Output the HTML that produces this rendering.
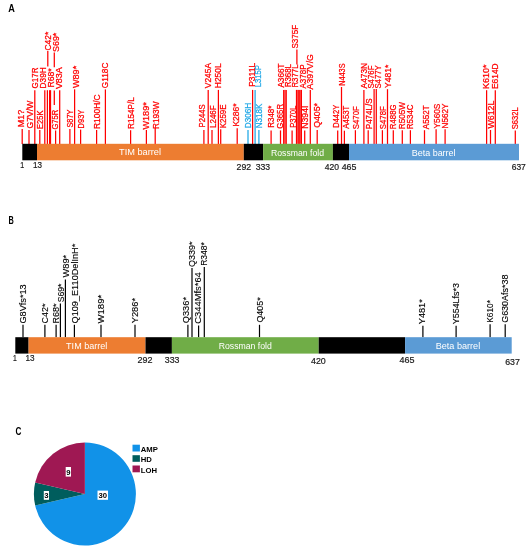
<!DOCTYPE html>
<html><head><meta charset="utf-8"><title>Figure</title>
<style>html,body{margin:0;padding:0;background:#fff}svg{display:block}text{font-family:"Liberation Sans",sans-serif}</style></head><body>
<svg width="529" height="550" viewBox="0 0 529 550">
<rect width="529" height="550" fill="#fff"/>
<text x="8.3" y="12.0" font-size="10" font-weight="bold" fill="#000" textLength="6.6" lengthAdjust="spacingAndGlyphs">A</text>
<rect x="283.7" y="89.9" width="2.5" height="54" fill="#ff6a6a"/><rect x="296.5" y="89.9" width="4.9" height="54" fill="#ff5050"/>
<line x1="22.2" y1="128.9" x2="22.2" y2="144.0" stroke="#ff0000" stroke-width="1.25"/>
<line x1="29.0" y1="130" x2="29.0" y2="144.0" stroke="#ff0000" stroke-width="1.25"/>
<line x1="34.8" y1="90.2" x2="34.8" y2="144.0" stroke="#ff0000" stroke-width="1.25"/>
<line x1="39.8" y1="130" x2="39.8" y2="144.0" stroke="#ff0000" stroke-width="1.25"/>
<line x1="44.8" y1="90.2" x2="44.8" y2="144.0" stroke="#ff0000" stroke-width="1.25"/>
<line x1="47.8" y1="51" x2="47.8" y2="66.5" stroke="#ff0000" stroke-width="1.25"/>
<line x1="47.4" y1="90.2" x2="47.4" y2="144.0" stroke="#ff0000" stroke-width="1.25"/>
<line x1="49.6" y1="90.2" x2="49.6" y2="144.0" stroke="#ff0000" stroke-width="1.25"/>
<line x1="50.5" y1="90.2" x2="50.5" y2="144.0" stroke="#ff0000" stroke-width="1.25"/>
<line x1="54.3" y1="52.5" x2="54.3" y2="67.3" stroke="#ff0000" stroke-width="1.25"/>
<line x1="54.3" y1="90.5" x2="54.3" y2="105" stroke="#ff0000" stroke-width="1.25"/>
<line x1="55.6" y1="130.5" x2="55.6" y2="144.0" stroke="#ff0000" stroke-width="1.25"/>
<line x1="59.7" y1="90.2" x2="59.7" y2="144.0" stroke="#ff0000" stroke-width="1.25"/>
<line x1="69.9" y1="128.9" x2="69.9" y2="144.0" stroke="#ff0000" stroke-width="1.25"/>
<line x1="74.6" y1="89.3" x2="74.6" y2="144.0" stroke="#ff0000" stroke-width="1.25"/>
<line x1="80.6" y1="129.6" x2="80.6" y2="144.0" stroke="#ff0000" stroke-width="1.25"/>
<line x1="96.6" y1="130" x2="96.6" y2="144.0" stroke="#ff0000" stroke-width="1.25"/>
<line x1="105.4" y1="89.4" x2="105.4" y2="144.0" stroke="#ff0000" stroke-width="1.25"/>
<line x1="130.6" y1="130.2" x2="130.6" y2="144.0" stroke="#ff0000" stroke-width="1.25"/>
<line x1="146.4" y1="130" x2="146.4" y2="144.0" stroke="#ff0000" stroke-width="1.25"/>
<line x1="155.2" y1="128" x2="155.2" y2="144.0" stroke="#ff0000" stroke-width="1.25"/>
<line x1="203.9" y1="130" x2="203.9" y2="144.0" stroke="#ff0000" stroke-width="1.25"/>
<line x1="208.2" y1="89.9" x2="208.2" y2="144.0" stroke="#ff0000" stroke-width="1.25"/>
<line x1="212.0" y1="130" x2="212.0" y2="144.0" stroke="#ff0000" stroke-width="1.25"/>
<line x1="218.4" y1="89.9" x2="218.4" y2="144.0" stroke="#ff0000" stroke-width="1.25"/>
<line x1="220.7" y1="129.2" x2="220.7" y2="144.0" stroke="#ff0000" stroke-width="1.25"/>
<line x1="237.2" y1="128.3" x2="237.2" y2="144.0" stroke="#ff0000" stroke-width="1.25"/>
<line x1="248.0" y1="130" x2="248.0" y2="144.0" stroke="#1ea7e6" stroke-width="1.25"/>
<line x1="252.6" y1="89.9" x2="252.6" y2="144.0" stroke="#ff0000" stroke-width="1.25"/>
<line x1="255.1" y1="89.9" x2="255.1" y2="144.0" stroke="#1ea7e6" stroke-width="1.25"/>
<line x1="258.9" y1="130" x2="258.9" y2="144.0" stroke="#1ea7e6" stroke-width="1.25"/>
<line x1="271.1" y1="130.4" x2="271.1" y2="144.0" stroke="#ff0000" stroke-width="1.25"/>
<line x1="280.5" y1="130.4" x2="280.5" y2="144.0" stroke="#ff0000" stroke-width="1.25"/>
<line x1="283.7" y1="89.9" x2="283.7" y2="144.0" stroke="#ff0000" stroke-width="1.25"/>
<line x1="286.2" y1="89.9" x2="286.2" y2="144.0" stroke="#ff0000" stroke-width="1.25"/>
<line x1="292.1" y1="130.4" x2="292.1" y2="144.0" stroke="#ff0000" stroke-width="1.25"/>
<line x1="296.5" y1="89.9" x2="296.5" y2="144.0" stroke="#ff0000" stroke-width="1.25"/>
<line x1="296.9" y1="49.5" x2="296.9" y2="64.5" stroke="#ff0000" stroke-width="1.25"/>
<line x1="299.0" y1="89.9" x2="299.0" y2="144.0" stroke="#ff0000" stroke-width="1.25"/>
<line x1="301.4" y1="89.9" x2="301.4" y2="144.0" stroke="#ff0000" stroke-width="1.25"/>
<line x1="304.7" y1="130.4" x2="304.7" y2="144.0" stroke="#ff0000" stroke-width="1.25"/>
<line x1="310.3" y1="89.9" x2="310.3" y2="144.0" stroke="#ff0000" stroke-width="1.25"/>
<line x1="317.2" y1="129.9" x2="317.2" y2="144.0" stroke="#ff0000" stroke-width="1.25"/>
<line x1="337.7" y1="130.4" x2="337.7" y2="144.0" stroke="#ff0000" stroke-width="1.25"/>
<line x1="341.5" y1="87" x2="341.5" y2="144.0" stroke="#ff0000" stroke-width="1.25"/>
<line x1="344.4" y1="130.7" x2="344.4" y2="144.0" stroke="#ff0000" stroke-width="1.25"/>
<line x1="355.4" y1="130.2" x2="355.4" y2="144.0" stroke="#ff0000" stroke-width="1.25"/>
<line x1="363.9" y1="89.9" x2="363.9" y2="144.0" stroke="#ff0000" stroke-width="1.25"/>
<line x1="368.2" y1="130.2" x2="368.2" y2="144.0" stroke="#ff0000" stroke-width="1.25"/>
<line x1="374.1" y1="89" x2="374.1" y2="144.0" stroke="#ff0000" stroke-width="1.25"/>
<line x1="376.3" y1="89" x2="376.3" y2="144.0" stroke="#ff0000" stroke-width="1.25"/>
<line x1="382.4" y1="130.2" x2="382.4" y2="144.0" stroke="#ff0000" stroke-width="1.25"/>
<line x1="387.5" y1="89.2" x2="387.5" y2="144.0" stroke="#ff0000" stroke-width="1.25"/>
<line x1="393.3" y1="130.2" x2="393.3" y2="144.0" stroke="#ff0000" stroke-width="1.25"/>
<line x1="402.3" y1="130.2" x2="402.3" y2="144.0" stroke="#ff0000" stroke-width="1.25"/>
<line x1="410.4" y1="130.2" x2="410.4" y2="144.0" stroke="#ff0000" stroke-width="1.25"/>
<line x1="424.5" y1="130.2" x2="424.5" y2="144.0" stroke="#ff0000" stroke-width="1.25"/>
<line x1="436.1" y1="129.2" x2="436.1" y2="144.0" stroke="#ff0000" stroke-width="1.25"/>
<line x1="445.1" y1="129.2" x2="445.1" y2="144.0" stroke="#ff0000" stroke-width="1.25"/>
<line x1="486.6" y1="90.2" x2="486.6" y2="144.0" stroke="#ff0000" stroke-width="1.25"/>
<line x1="490.5" y1="130" x2="490.5" y2="144.0" stroke="#ff0000" stroke-width="1.25"/>
<line x1="495.3" y1="90.2" x2="495.3" y2="144.0" stroke="#ff0000" stroke-width="1.25"/>
<line x1="515.3" y1="130.5" x2="515.3" y2="144.0" stroke="#ff0000" stroke-width="1.25"/>
<text transform="translate(24.28,127.2) rotate(-90)" font-size="8.6" fill="#ff0000" stroke="#ff0000" stroke-width="0.25" textLength="17.5" lengthAdjust="spacingAndGlyphs">M1?</text>
<text transform="translate(33.08,128.4) rotate(-90)" font-size="8.6" fill="#ff0000" stroke="#ff0000" stroke-width="0.25" textLength="27.8" lengthAdjust="spacingAndGlyphs">G7V/W</text>
<text transform="translate(37.78,88.4) rotate(-90)" font-size="8.6" fill="#ff0000" stroke="#ff0000" stroke-width="0.25" textLength="20.8" lengthAdjust="spacingAndGlyphs">G17R</text>
<text transform="translate(42.88,128.9) rotate(-90)" font-size="8.6" fill="#ff0000" stroke="#ff0000" stroke-width="0.25" textLength="18.4" lengthAdjust="spacingAndGlyphs">E25K</text>
<text transform="translate(46.38,88.4) rotate(-90)" font-size="8.6" fill="#ff0000" stroke="#ff0000" stroke-width="0.25" textLength="21.2" lengthAdjust="spacingAndGlyphs">D39H</text>
<text transform="translate(50.88,50.5) rotate(-90)" font-size="8.6" fill="#ff0000" stroke="#ff0000" stroke-width="0.25" textLength="18.7" lengthAdjust="spacingAndGlyphs">C42*</text>
<text transform="translate(53.58,87.6) rotate(-90)" font-size="8.6" fill="#ff0000" stroke="#ff0000" stroke-width="0.25" textLength="19.3" lengthAdjust="spacingAndGlyphs">R68*</text>
<text transform="translate(59.38,51.9) rotate(-90)" font-size="8.6" fill="#ff0000" stroke="#ff0000" stroke-width="0.25" textLength="19.2" lengthAdjust="spacingAndGlyphs">S69*</text>
<text transform="translate(57.68,129.6) rotate(-90)" font-size="8.6" fill="#ff0000" stroke="#ff0000" stroke-width="0.25" textLength="19.9" lengthAdjust="spacingAndGlyphs">G75R</text>
<text transform="translate(61.68,89.1) rotate(-90)" font-size="8.6" fill="#ff0000" stroke="#ff0000" stroke-width="0.25" textLength="21.9" lengthAdjust="spacingAndGlyphs">V83A</text>
<text transform="translate(72.58,127.5) rotate(-90)" font-size="8.6" fill="#ff0000" stroke="#ff0000" stroke-width="0.25" textLength="17.8" lengthAdjust="spacingAndGlyphs">S87Y</text>
<text transform="translate(78.58,88.0) rotate(-90)" font-size="8.6" fill="#ff0000" stroke="#ff0000" stroke-width="0.25" textLength="22.2" lengthAdjust="spacingAndGlyphs">W89*</text>
<text transform="translate(83.68,128.4) rotate(-90)" font-size="8.6" fill="#ff0000" stroke="#ff0000" stroke-width="0.25" textLength="18.7" lengthAdjust="spacingAndGlyphs">D93Y</text>
<text transform="translate(99.68,129.0) rotate(-90)" font-size="8.6" fill="#ff0000" stroke="#ff0000" stroke-width="0.25" textLength="34.7" lengthAdjust="spacingAndGlyphs">R100H/C</text>
<text transform="translate(108.08,88.2) rotate(-90)" font-size="8.6" fill="#ff0000" stroke="#ff0000" stroke-width="0.25" textLength="25.6" lengthAdjust="spacingAndGlyphs">G118C</text>
<text transform="translate(134.08,129.0) rotate(-90)" font-size="8.6" fill="#ff0000" stroke="#ff0000" stroke-width="0.25" textLength="31.7" lengthAdjust="spacingAndGlyphs">R154P/L</text>
<text transform="translate(149.08,129.6) rotate(-90)" font-size="8.6" fill="#ff0000" stroke="#ff0000" stroke-width="0.25" textLength="27.4" lengthAdjust="spacingAndGlyphs">W189*</text>
<text transform="translate(158.88,129.0) rotate(-90)" font-size="8.6" fill="#ff0000" stroke="#ff0000" stroke-width="0.25" textLength="27.4" lengthAdjust="spacingAndGlyphs">R193W</text>
<text transform="translate(204.98,127.5) rotate(-90)" font-size="8.6" fill="#ff0000" stroke="#ff0000" stroke-width="0.25" textLength="23.1" lengthAdjust="spacingAndGlyphs">P244S</text>
<text transform="translate(211.28,88.2) rotate(-90)" font-size="8.6" fill="#ff0000" stroke="#ff0000" stroke-width="0.25" textLength="25.2" lengthAdjust="spacingAndGlyphs">V245A</text>
<text transform="translate(215.58,128.0) rotate(-90)" font-size="8.6" fill="#ff0000" stroke="#ff0000" stroke-width="0.25" textLength="22.7" lengthAdjust="spacingAndGlyphs">L246F</text>
<text transform="translate(221.48,88.2) rotate(-90)" font-size="8.6" fill="#ff0000" stroke="#ff0000" stroke-width="0.25" textLength="24.8" lengthAdjust="spacingAndGlyphs">H250L</text>
<text transform="translate(225.58,128.3) rotate(-90)" font-size="8.6" fill="#ff0000" stroke="#ff0000" stroke-width="0.25" textLength="23.9" lengthAdjust="spacingAndGlyphs">K259E</text>
<text transform="translate(239.08,126.6) rotate(-90)" font-size="8.6" fill="#ff0000" stroke="#ff0000" stroke-width="0.25" textLength="23.1" lengthAdjust="spacingAndGlyphs">K286*</text>
<text transform="translate(251.08,128.3) rotate(-90)" font-size="8.6" fill="#1ea7e6" stroke="#1ea7e6" stroke-width="0.25" textLength="25.6" lengthAdjust="spacingAndGlyphs">D306H</text>
<text transform="translate(254.58,86.8) rotate(-90)" font-size="8.6" fill="#ff0000" stroke="#ff0000" stroke-width="0.25" textLength="23.9" lengthAdjust="spacingAndGlyphs">P311L</text>
<text transform="translate(261.08,87.3) rotate(-90)" font-size="8.6" fill="#1ea7e6" stroke="#1ea7e6" stroke-width="0.25" textLength="22.3" lengthAdjust="spacingAndGlyphs">L315P</text>
<text transform="translate(261.98,128.3) rotate(-90)" font-size="8.6" fill="#1ea7e6" stroke="#1ea7e6" stroke-width="0.25" textLength="24.8" lengthAdjust="spacingAndGlyphs">N318K</text>
<text transform="translate(273.68,127.8) rotate(-90)" font-size="8.6" fill="#ff0000" stroke="#ff0000" stroke-width="0.25" textLength="22.2" lengthAdjust="spacingAndGlyphs">R348*</text>
<text transform="translate(283.28,128.7) rotate(-90)" font-size="8.6" fill="#ff0000" stroke="#ff0000" stroke-width="0.25" textLength="24.8" lengthAdjust="spacingAndGlyphs">G365R</text>
<text transform="translate(284.08,87.6) rotate(-90)" font-size="8.6" fill="#ff0000" stroke="#ff0000" stroke-width="0.25" textLength="24.1" lengthAdjust="spacingAndGlyphs">A366T</text>
<text transform="translate(290.88,87.3) rotate(-90)" font-size="8.6" fill="#ff0000" stroke="#ff0000" stroke-width="0.25" textLength="23.3" lengthAdjust="spacingAndGlyphs">R368L</text>
<text transform="translate(295.58,127.8) rotate(-90)" font-size="8.6" fill="#ff0000" stroke="#ff0000" stroke-width="0.25" textLength="22.2" lengthAdjust="spacingAndGlyphs">P370L</text>
<text transform="translate(298.28,87.6) rotate(-90)" font-size="8.6" fill="#ff0000" stroke="#ff0000" stroke-width="0.25" textLength="23.1" lengthAdjust="spacingAndGlyphs">R377L</text>
<text transform="translate(298.18,48.6) rotate(-90)" font-size="8.6" fill="#ff0000" stroke="#ff0000" stroke-width="0.25" textLength="23.7" lengthAdjust="spacingAndGlyphs">S375F</text>
<text transform="translate(305.58,88.6) rotate(-90)" font-size="8.6" fill="#ff0000" stroke="#ff0000" stroke-width="0.25" textLength="24.1" lengthAdjust="spacingAndGlyphs">A378P</text>
<text transform="translate(307.78,128.7) rotate(-90)" font-size="8.6" fill="#ff0000" stroke="#ff0000" stroke-width="0.25" textLength="23.1" lengthAdjust="spacingAndGlyphs">N394I</text>
<text transform="translate(313.38,89.4) rotate(-90)" font-size="8.6" fill="#ff0000" stroke="#ff0000" stroke-width="0.25" textLength="35.2" lengthAdjust="spacingAndGlyphs">A397V/G</text>
<text transform="translate(320.28,127.8) rotate(-90)" font-size="8.6" fill="#ff0000" stroke="#ff0000" stroke-width="0.25" textLength="24.8" lengthAdjust="spacingAndGlyphs">Q405*</text>
<text transform="translate(338.58,127.8) rotate(-90)" font-size="8.6" fill="#ff0000" stroke="#ff0000" stroke-width="0.25" textLength="23.0" lengthAdjust="spacingAndGlyphs">D442Y</text>
<text transform="translate(344.68,85.8) rotate(-90)" font-size="8.6" fill="#ff0000" stroke="#ff0000" stroke-width="0.25" textLength="22.3" lengthAdjust="spacingAndGlyphs">N443S</text>
<text transform="translate(349.08,128.7) rotate(-90)" font-size="8.6" fill="#ff0000" stroke="#ff0000" stroke-width="0.25" textLength="23.1" lengthAdjust="spacingAndGlyphs">A453T</text>
<text transform="translate(359.28,129.2) rotate(-90)" font-size="8.6" fill="#ff0000" stroke="#ff0000" stroke-width="0.25" textLength="23.0" lengthAdjust="spacingAndGlyphs">S470F</text>
<text transform="translate(367.08,88.4) rotate(-90)" font-size="8.6" fill="#ff0000" stroke="#ff0000" stroke-width="0.25" textLength="25.5" lengthAdjust="spacingAndGlyphs">A473N</text>
<text transform="translate(372.48,129.2) rotate(-90)" font-size="8.6" fill="#ff0000" stroke="#ff0000" stroke-width="0.25" textLength="30.8" lengthAdjust="spacingAndGlyphs">P474L/S</text>
<text transform="translate(374.38,88.6) rotate(-90)" font-size="8.6" fill="#ff0000" stroke="#ff0000" stroke-width="0.25" textLength="23.0" lengthAdjust="spacingAndGlyphs">S476F</text>
<text transform="translate(380.78,88.6) rotate(-90)" font-size="8.6" fill="#ff0000" stroke="#ff0000" stroke-width="0.25" textLength="23.4" lengthAdjust="spacingAndGlyphs">S477Y</text>
<text transform="translate(385.78,129.2) rotate(-90)" font-size="8.6" fill="#ff0000" stroke="#ff0000" stroke-width="0.25" textLength="23.0" lengthAdjust="spacingAndGlyphs">S478F</text>
<text transform="translate(391.08,88.0) rotate(-90)" font-size="8.6" fill="#ff0000" stroke="#ff0000" stroke-width="0.25" textLength="23.2" lengthAdjust="spacingAndGlyphs">Y481*</text>
<text transform="translate(396.38,129.2) rotate(-90)" font-size="8.6" fill="#ff0000" stroke="#ff0000" stroke-width="0.25" textLength="24.8" lengthAdjust="spacingAndGlyphs">R488G</text>
<text transform="translate(405.38,129.2) rotate(-90)" font-size="8.6" fill="#ff0000" stroke="#ff0000" stroke-width="0.25" textLength="27.3" lengthAdjust="spacingAndGlyphs">R505W</text>
<text transform="translate(413.48,129.2) rotate(-90)" font-size="8.6" fill="#ff0000" stroke="#ff0000" stroke-width="0.25" textLength="24.8" lengthAdjust="spacingAndGlyphs">R534C</text>
<text transform="translate(429.28,129.2) rotate(-90)" font-size="8.6" fill="#ff0000" stroke="#ff0000" stroke-width="0.25" textLength="23.8" lengthAdjust="spacingAndGlyphs">A552T</text>
<text transform="translate(440.38,128.5) rotate(-90)" font-size="8.6" fill="#ff0000" stroke="#ff0000" stroke-width="0.25" textLength="24.9" lengthAdjust="spacingAndGlyphs">Y560S</text>
<text transform="translate(448.18,128.5) rotate(-90)" font-size="8.6" fill="#ff0000" stroke="#ff0000" stroke-width="0.25" textLength="24.9" lengthAdjust="spacingAndGlyphs">N562Y</text>
<text transform="translate(489.18,89.0) rotate(-90)" font-size="8.6" fill="#ff0000" stroke="#ff0000" stroke-width="0.25" textLength="24.4" lengthAdjust="spacingAndGlyphs">K610*</text>
<text transform="translate(494.08,128.5) rotate(-90)" font-size="8.6" fill="#ff0000" stroke="#ff0000" stroke-width="0.25" textLength="27.8" lengthAdjust="spacingAndGlyphs">W612L</text>
<text transform="translate(497.68,89.0) rotate(-90)" font-size="8.6" fill="#ff0000" stroke="#ff0000" stroke-width="0.25" textLength="25.6" lengthAdjust="spacingAndGlyphs">E614D</text>
<text transform="translate(518.38,129.2) rotate(-90)" font-size="8.6" fill="#ff0000" stroke="#ff0000" stroke-width="0.25" textLength="21.9" lengthAdjust="spacingAndGlyphs">S632L</text>
<rect x="22.3" y="143.8" width="14.7" height="16.5" fill="#000"/>
<rect x="37" y="143.8" width="206.8" height="16.5" fill="#ed7d31"/>
<rect x="243.8" y="143.8" width="19.3" height="16.5" fill="#000"/>
<rect x="263.1" y="143.8" width="69.8" height="16.5" fill="#70ad47"/>
<rect x="332.9" y="143.8" width="16.1" height="16.5" fill="#000"/>
<rect x="349" y="143.8" width="170" height="16.5" fill="#5b9bd5"/>
<text x="119" y="155.3" font-size="8.7" fill="#fff" stroke="#fff" stroke-width="0" font-weight="normal" textLength="42" lengthAdjust="spacingAndGlyphs">TIM barrel</text>
<text x="271" y="155.5" font-size="8.7" fill="#fff" stroke="#fff" stroke-width="0" font-weight="normal" textLength="53" lengthAdjust="spacingAndGlyphs">Rossman fold</text>
<text x="411.7" y="155.5" font-size="8.7" fill="#fff" stroke="#fff" stroke-width="0" font-weight="normal" textLength="43.9" lengthAdjust="spacingAndGlyphs">Beta barrel</text>
<text x="20.3" y="168.0" font-size="8.8" fill="#1a1a1a" stroke="#1a1a1a" stroke-width="0.2" font-weight="normal" textLength="3.9" lengthAdjust="spacingAndGlyphs">1</text>
<text x="33" y="168.0" font-size="8.8" fill="#1a1a1a" stroke="#1a1a1a" stroke-width="0.2" font-weight="normal" textLength="9" lengthAdjust="spacingAndGlyphs">13</text>
<text x="236.6" y="169.6" font-size="8.8" fill="#1a1a1a" stroke="#1a1a1a" stroke-width="0.2" font-weight="normal" textLength="14.6" lengthAdjust="spacingAndGlyphs">292</text>
<text x="255.7" y="169.6" font-size="8.8" fill="#1a1a1a" stroke="#1a1a1a" stroke-width="0.2" font-weight="normal" textLength="14.5" lengthAdjust="spacingAndGlyphs">333</text>
<text x="324.7" y="169.6" font-size="8.8" fill="#1a1a1a" stroke="#1a1a1a" stroke-width="0.2" font-weight="normal" textLength="14.3" lengthAdjust="spacingAndGlyphs">420</text>
<text x="341.7" y="169.6" font-size="8.8" fill="#1a1a1a" stroke="#1a1a1a" stroke-width="0.2" font-weight="normal" textLength="14.8" lengthAdjust="spacingAndGlyphs">465</text>
<text x="511.7" y="170" font-size="8.8" fill="#1a1a1a" stroke="#1a1a1a" stroke-width="0.2" font-weight="normal" textLength="14.1" lengthAdjust="spacingAndGlyphs">637</text>
<text x="8.5" y="223.6" font-size="10" font-weight="bold" fill="#000" textLength="5.3" lengthAdjust="spacingAndGlyphs">B</text>
<line x1="23.0" y1="324.8" x2="23.0" y2="337.2" stroke="#000000" stroke-width="1.2"/>
<line x1="44.9" y1="324.8" x2="44.9" y2="337.2" stroke="#000000" stroke-width="1.2"/>
<line x1="56.1" y1="324.8" x2="56.1" y2="337.2" stroke="#000000" stroke-width="1.2"/>
<line x1="60.4" y1="303.6" x2="60.4" y2="337.2" stroke="#000000" stroke-width="1.2"/>
<line x1="65.4" y1="279.4" x2="65.4" y2="337.2" stroke="#000000" stroke-width="1.2"/>
<line x1="74.4" y1="324.8" x2="74.4" y2="337.2" stroke="#000000" stroke-width="1.2"/>
<line x1="101.0" y1="324.8" x2="101.0" y2="337.2" stroke="#000000" stroke-width="1.2"/>
<line x1="135.0" y1="324.8" x2="135.0" y2="337.2" stroke="#000000" stroke-width="1.2"/>
<line x1="187.9" y1="324.8" x2="187.9" y2="337.2" stroke="#000000" stroke-width="1.2"/>
<line x1="192.0" y1="267.9" x2="192.0" y2="337.2" stroke="#000000" stroke-width="1.2"/>
<line x1="198.6" y1="325.4" x2="198.6" y2="337.2" stroke="#000000" stroke-width="1.2"/>
<line x1="204.3" y1="267.0" x2="204.3" y2="337.2" stroke="#000000" stroke-width="1.2"/>
<line x1="259.5" y1="324.8" x2="259.5" y2="337.2" stroke="#000000" stroke-width="1.2"/>
<line x1="422.9" y1="325.7" x2="422.9" y2="337.2" stroke="#000000" stroke-width="1.2"/>
<line x1="456.1" y1="325.7" x2="456.1" y2="337.2" stroke="#000000" stroke-width="1.2"/>
<line x1="490.1" y1="324.2" x2="490.1" y2="337.2" stroke="#000000" stroke-width="1.2"/>
<line x1="505.2" y1="324.2" x2="505.2" y2="337.2" stroke="#000000" stroke-width="1.2"/>
<text transform="translate(26.2,323.5) rotate(-90)" font-size="9.1" fill="#000000" stroke="#000000" stroke-width="0.12" textLength="39.1" lengthAdjust="spacingAndGlyphs">G8Vfs*13</text>
<text transform="translate(48.1,323.5) rotate(-90)" font-size="9.1" fill="#000000" stroke="#000000" stroke-width="0.12" textLength="19.9" lengthAdjust="spacingAndGlyphs">C42*</text>
<text transform="translate(59.3,323.5) rotate(-90)" font-size="9.1" fill="#000000" stroke="#000000" stroke-width="0.12" textLength="19.9" lengthAdjust="spacingAndGlyphs">R68*</text>
<text transform="translate(64.3,302.3) rotate(-90)" font-size="9.1" fill="#000000" stroke="#000000" stroke-width="0.12" textLength="18.7" lengthAdjust="spacingAndGlyphs">S69*</text>
<text transform="translate(68.6,277.4) rotate(-90)" font-size="9.1" fill="#000000" stroke="#000000" stroke-width="0.12" textLength="22.5" lengthAdjust="spacingAndGlyphs">W89*</text>
<text transform="translate(78.1,323.5) rotate(-90)" font-size="9.1" fill="#000000" stroke="#000000" stroke-width="0.12" textLength="79.8" lengthAdjust="spacingAndGlyphs">Q109_E110DelInH*</text>
<text transform="translate(104.2,323.5) rotate(-90)" font-size="9.1" fill="#000000" stroke="#000000" stroke-width="0.12" textLength="28.7" lengthAdjust="spacingAndGlyphs">W189*</text>
<text transform="translate(138.1,323.3) rotate(-90)" font-size="9.1" fill="#000000" stroke="#000000" stroke-width="0.12" textLength="25.3" lengthAdjust="spacingAndGlyphs">Y286*</text>
<text transform="translate(189.3,323.2) rotate(-90)" font-size="9.1" fill="#000000" stroke="#000000" stroke-width="0.12" textLength="26.2" lengthAdjust="spacingAndGlyphs">Q336*</text>
<text transform="translate(194.5,267.0) rotate(-90)" font-size="9.1" fill="#000000" stroke="#000000" stroke-width="0.12" textLength="25.5" lengthAdjust="spacingAndGlyphs">Q339*</text>
<text transform="translate(201.4,323.7) rotate(-90)" font-size="9.1" fill="#000000" stroke="#000000" stroke-width="0.12" textLength="51.5" lengthAdjust="spacingAndGlyphs">C344Mfs*64</text>
<text transform="translate(206.9,265.8) rotate(-90)" font-size="9.1" fill="#000000" stroke="#000000" stroke-width="0.12" textLength="23.5" lengthAdjust="spacingAndGlyphs">R348*</text>
<text transform="translate(262.5,322.6) rotate(-90)" font-size="9.1" fill="#000000" stroke="#000000" stroke-width="0.12" textLength="25.3" lengthAdjust="spacingAndGlyphs">Q405*</text>
<text transform="translate(425.3,324.2) rotate(-90)" font-size="9.1" fill="#000000" stroke="#000000" stroke-width="0.12" textLength="24.9" lengthAdjust="spacingAndGlyphs">Y481*</text>
<text transform="translate(459.3,324.2) rotate(-90)" font-size="9.1" fill="#000000" stroke="#000000" stroke-width="0.12" textLength="41.1" lengthAdjust="spacingAndGlyphs">Y554Lfs*3</text>
<text transform="translate(493.3,322.8) rotate(-90)" font-size="9.1" fill="#000000" stroke="#000000" stroke-width="0.12" textLength="22.7" lengthAdjust="spacingAndGlyphs">K610*</text>
<text transform="translate(508.4,322.8) rotate(-90)" font-size="9.1" fill="#000000" stroke="#000000" stroke-width="0.12" textLength="48.2" lengthAdjust="spacingAndGlyphs">G630Afs*38</text>
<rect x="15.3" y="337.2" width="13.3" height="16.4" fill="#000"/>
<rect x="28.6" y="337.2" width="116.9" height="16.4" fill="#ed7d31"/>
<rect x="145.5" y="337.2" width="26.4" height="16.4" fill="#000"/>
<rect x="171.9" y="337.2" width="146.8" height="16.4" fill="#70ad47"/>
<rect x="318.7" y="337.2" width="86.4" height="16.4" fill="#000"/>
<rect x="405.1" y="337.2" width="106.6" height="16.4" fill="#5b9bd5"/>
<text x="66.1" y="348.8" font-size="8.8" fill="#fff" stroke="#fff" stroke-width="0" font-weight="normal" textLength="41.2" lengthAdjust="spacingAndGlyphs">TIM barrel</text>
<text x="218.7" y="348.8" font-size="8.8" fill="#fff" stroke="#fff" stroke-width="0" font-weight="normal" textLength="53.2" lengthAdjust="spacingAndGlyphs">Rossman fold</text>
<text x="435.7" y="348.8" font-size="8.8" fill="#fff" stroke="#fff" stroke-width="0" font-weight="normal" textLength="44.5" lengthAdjust="spacingAndGlyphs">Beta barrel</text>
<text x="13.0" y="361" font-size="8.8" fill="#1a1a1a" stroke="#1a1a1a" stroke-width="0.2" font-weight="normal" textLength="3.8" lengthAdjust="spacingAndGlyphs">1</text>
<text x="25.4" y="361" font-size="8.8" fill="#1a1a1a" stroke="#1a1a1a" stroke-width="0.2" font-weight="normal" textLength="9.1" lengthAdjust="spacingAndGlyphs">13</text>
<text x="137.6" y="363.3" font-size="8.8" fill="#1a1a1a" stroke="#1a1a1a" stroke-width="0.2" font-weight="normal" textLength="15.0" lengthAdjust="spacingAndGlyphs">292</text>
<text x="164.8" y="363.3" font-size="8.8" fill="#1a1a1a" stroke="#1a1a1a" stroke-width="0.2" font-weight="normal" textLength="14.7" lengthAdjust="spacingAndGlyphs">333</text>
<text x="311" y="363.8" font-size="8.8" fill="#1a1a1a" stroke="#1a1a1a" stroke-width="0.2" font-weight="normal" textLength="14.8" lengthAdjust="spacingAndGlyphs">420</text>
<text x="399.4" y="363.2" font-size="8.8" fill="#1a1a1a" stroke="#1a1a1a" stroke-width="0.2" font-weight="normal" textLength="15.0" lengthAdjust="spacingAndGlyphs">465</text>
<text x="505.2" y="364.5" font-size="8.8" fill="#1a1a1a" stroke="#1a1a1a" stroke-width="0.2" font-weight="normal" textLength="14.7" lengthAdjust="spacingAndGlyphs">637</text>
<text x="15.4" y="435.2" font-size="10" font-weight="bold" fill="#000" textLength="5.9" lengthAdjust="spacingAndGlyphs">C</text>
<path d="M84.9,494.0 L84.90,442.50 A51,51.5 0 1 1 35.18,505.46 Z" fill="#1192e8"/>
<path d="M84.9,494.0 L35.18,505.46 A51,51.5 0 0 1 35.18,482.54 Z" fill="#005d5d"/>
<path d="M84.9,494.0 L35.18,482.54 A51,51.5 0 0 1 84.90,442.50 Z" fill="#9f1853"/>
<rect x="97.5" y="490.6" width="10.5" height="9.2" fill="#fff"/>
<text x="102.75" y="497.90000000000003" font-size="7.7" font-weight="bold" fill="#000" text-anchor="middle">30</text>
<rect x="43.8" y="491" width="5.2" height="8.8" fill="#fff"/>
<text x="46.4" y="497.90000000000003" font-size="7.7" font-weight="bold" fill="#000" text-anchor="middle">3</text>
<rect x="65.7" y="467" width="5.3" height="9.6" fill="#fff"/>
<text x="68.35" y="474.70000000000005" font-size="7.7" font-weight="bold" fill="#000" text-anchor="middle">9</text>
<rect x="132.5" y="444.7" width="7.4" height="6.8" fill="#1192e8"/>
<text x="140.8" y="451.8" font-size="7.7" font-weight="bold" fill="#000">AMP</text>
<rect x="132.5" y="455.2" width="7.4" height="6.6" fill="#005d5d"/>
<text x="140.8" y="462.1" font-size="7.7" font-weight="bold" fill="#000">HD</text>
<rect x="132.5" y="465.5" width="7.4" height="6.8" fill="#9f1853"/>
<text x="140.8" y="472.6" font-size="7.7" font-weight="bold" fill="#000">LOH</text>
</svg></body></html>
